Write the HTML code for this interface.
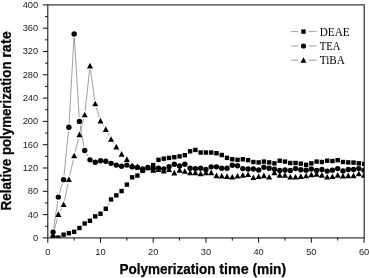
<!DOCTYPE html>
<html><head><meta charset="utf-8"><title>Relative polymerization rate</title>
<style>html,body{margin:0;padding:0;background:#fff}svg{display:block}</style></head>
<body>
<svg width="370" height="278" viewBox="0 0 370 278">
<rect width="370" height="278" fill="#fff"/>
<defs><clipPath id="pc"><rect x="47.8" y="4.9" width="316.4" height="233.0"/></clipPath></defs>
<g font-family="Liberation Sans, Arial, sans-serif" font-size="9.3" fill="#222">
<text x="38.2" y="240.80" text-anchor="end">0</text>
<text x="38.2" y="217.50" text-anchor="end">40</text>
<text x="38.2" y="194.20" text-anchor="end">80</text>
<text x="38.2" y="170.90" text-anchor="end">120</text>
<text x="38.2" y="147.60" text-anchor="end">160</text>
<text x="38.2" y="124.30" text-anchor="end">200</text>
<text x="38.2" y="101.00" text-anchor="end">240</text>
<text x="38.2" y="77.70" text-anchor="end">280</text>
<text x="38.2" y="54.40" text-anchor="end">320</text>
<text x="38.2" y="31.10" text-anchor="end">360</text>
<text x="38.2" y="7.80" text-anchor="end">400</text>
<text x="47.80" y="254.8" text-anchor="middle">0</text>
<text x="100.51" y="254.8" text-anchor="middle">10</text>
<text x="153.22" y="254.8" text-anchor="middle">20</text>
<text x="205.93" y="254.8" text-anchor="middle">30</text>
<text x="258.64" y="254.8" text-anchor="middle">40</text>
<text x="311.35" y="254.8" text-anchor="middle">50</text>
<text x="364.06" y="254.8" text-anchor="middle">60</text>
</g>
<g font-family="Liberation Sans, Arial, sans-serif" font-weight="bold" font-size="14.6" fill="#000" stroke="#000" stroke-width="0.25">
<text transform="translate(10.8 210.5) rotate(-90)"><tspan x="0.00" textLength="55.40" lengthAdjust="spacingAndGlyphs">Relative </tspan><tspan x="55.40" textLength="97.30" lengthAdjust="spacingAndGlyphs">polymerization </tspan><tspan x="152.70" textLength="26.60" lengthAdjust="spacingAndGlyphs">rate</tspan></text>
<text y="273.6"><tspan x="119.60" textLength="99.70" lengthAdjust="spacingAndGlyphs">Polymerization </tspan><tspan x="219.30" textLength="33.30" lengthAdjust="spacingAndGlyphs">time </tspan><tspan x="252.40" textLength="33.60" lengthAdjust="spacingAndGlyphs">(min)</tspan></text>
</g>
<g stroke="#777" stroke-width="0.7" fill="none">
<path d="M107.75 205.29L109.08 202.94M124.12 187.97L124.34 187.70M129.21 181.36L129.79 180.56"/>
<path d="M53.67 228.12L57.75 201.08M59.50 193.30L62.46 183.48M64.01 175.67L68.48 131.20M69.11 123.23L73.93 38.02M74.40 38.02L79.19 117.41M80.14 125.34L83.98 146.59M86.67 154.01L88.00 156.36"/>
<path d="M54.07 231.11L57.34 218.47M60.22 211.07L61.73 208.23M64.44 200.78L68.06 183.56M69.75 175.75L73.28 159.90M75.12 152.12L78.46 138.68M80.45 130.93L83.67 118.86M85.13 111.02L89.54 70.04M90.52 70.02L94.69 99.96M96.41 107.75L99.34 117.28M102.63 124.50L103.66 126.16M107.66 133.09L109.17 135.93M113.34 142.74L114.04 143.75M118.67 150.27L119.25 151.07"/>
<path d="M291 31.6H298.3M308.6 31.6H316.7"/>
<path d="M291 46H298.3M308.6 46H316.7"/>
<path d="M291 60.2H298.3M308.6 60.2H316.7"/>
</g>
<g fill="#000">
<g clip-path="url(#pc)"><rect x="50.87" y="235.12" width="4.4" height="4.4"/><rect x="56.14" y="235.41" width="4.4" height="4.4"/><rect x="61.41" y="232.50" width="4.4" height="4.4"/><rect x="66.68" y="231.04" width="4.4" height="4.4"/><rect x="71.95" y="229.64" width="4.4" height="4.4"/><rect x="77.23" y="225.80" width="4.4" height="4.4"/><rect x="82.50" y="221.31" width="4.4" height="4.4"/><rect x="87.77" y="218.57" width="4.4" height="4.4"/><rect x="93.04" y="214.15" width="4.4" height="4.4"/><rect x="98.31" y="211.53" width="4.4" height="4.4"/><rect x="103.58" y="206.58" width="4.4" height="4.4"/><rect x="108.85" y="197.26" width="4.4" height="4.4"/><rect x="114.12" y="193.18" width="4.4" height="4.4"/><rect x="119.39" y="188.87" width="4.4" height="4.4"/><rect x="124.66" y="182.40" width="4.4" height="4.4"/><rect x="129.94" y="175.12" width="4.4" height="4.4"/><rect x="135.21" y="173.37" width="4.4" height="4.4"/><rect x="140.48" y="168.71" width="4.4" height="4.4"/><rect x="145.75" y="165.80" width="4.4" height="4.4"/><rect x="151.02" y="162.89" width="4.4" height="4.4"/><rect x="156.29" y="157.65" width="4.4" height="4.4"/><rect x="161.56" y="156.48" width="4.4" height="4.4"/><rect x="166.83" y="155.72" width="4.4" height="4.4"/><rect x="172.10" y="155.02" width="4.4" height="4.4"/><rect x="177.38" y="154.15" width="4.4" height="4.4"/><rect x="182.65" y="152.99" width="4.4" height="4.4"/><rect x="187.92" y="149.14" width="4.4" height="4.4"/><rect x="193.19" y="147.74" width="4.4" height="4.4"/><rect x="198.46" y="150.31" width="4.4" height="4.4"/><rect x="203.73" y="150.31" width="4.4" height="4.4"/><rect x="209.00" y="150.31" width="4.4" height="4.4"/><rect x="214.27" y="151.06" width="4.4" height="4.4"/><rect x="219.54" y="152.81" width="4.4" height="4.4"/><rect x="224.81" y="155.66" width="4.4" height="4.4"/><rect x="230.08" y="157.06" width="4.4" height="4.4"/><rect x="235.36" y="157.65" width="4.4" height="4.4"/><rect x="240.63" y="157.06" width="4.4" height="4.4"/><rect x="245.90" y="157.94" width="4.4" height="4.4"/><rect x="251.17" y="159.80" width="4.4" height="4.4"/><rect x="256.44" y="160.21" width="4.4" height="4.4"/><rect x="261.71" y="159.39" width="4.4" height="4.4"/><rect x="266.98" y="160.21" width="4.4" height="4.4"/><rect x="272.25" y="161.14" width="4.4" height="4.4"/><rect x="277.52" y="158.52" width="4.4" height="4.4"/><rect x="282.80" y="159.39" width="4.4" height="4.4"/><rect x="288.07" y="160.79" width="4.4" height="4.4"/><rect x="293.34" y="160.79" width="4.4" height="4.4"/><rect x="298.61" y="161.43" width="4.4" height="4.4"/><rect x="303.88" y="162.65" width="4.4" height="4.4"/><rect x="309.15" y="161.14" width="4.4" height="4.4"/><rect x="314.42" y="159.39" width="4.4" height="4.4"/><rect x="319.69" y="159.80" width="4.4" height="4.4"/><rect x="324.96" y="158.52" width="4.4" height="4.4"/><rect x="330.23" y="158.81" width="4.4" height="4.4"/><rect x="335.50" y="157.94" width="4.4" height="4.4"/><rect x="340.78" y="159.80" width="4.4" height="4.4"/><rect x="346.05" y="160.21" width="4.4" height="4.4"/><rect x="351.32" y="160.38" width="4.4" height="4.4"/><rect x="356.59" y="161.14" width="4.4" height="4.4"/><rect x="361.86" y="161.72" width="4.4" height="4.4"/><circle cx="53.07" cy="232.08" r="2.7"/><circle cx="58.34" cy="197.12" r="2.7"/><circle cx="63.61" cy="179.65" r="2.7"/><circle cx="68.88" cy="127.23" r="2.7"/><circle cx="74.16" cy="34.03" r="2.7"/><circle cx="79.43" cy="121.40" r="2.7"/><circle cx="84.70" cy="150.53" r="2.7"/><circle cx="89.97" cy="159.84" r="2.7"/><circle cx="95.24" cy="162.18" r="2.7"/><circle cx="100.51" cy="160.78" r="2.7"/><circle cx="105.78" cy="161.24" r="2.7"/><circle cx="111.05" cy="163.34" r="2.7"/><circle cx="116.32" cy="165.09" r="2.7"/><circle cx="121.59" cy="166.25" r="2.7"/><circle cx="126.86" cy="165.09" r="2.7"/><circle cx="132.14" cy="166.84" r="2.7"/><circle cx="137.41" cy="167.42" r="2.7"/><circle cx="142.68" cy="168.87" r="2.7"/><circle cx="147.95" cy="167.42" r="2.7"/><circle cx="153.22" cy="168.58" r="2.7"/><circle cx="158.49" cy="168.29" r="2.7"/><circle cx="163.76" cy="168.87" r="2.7"/><circle cx="169.03" cy="166.66" r="2.7"/><circle cx="174.30" cy="164.21" r="2.7"/><circle cx="179.57" cy="165.96" r="2.7"/><circle cx="184.85" cy="164.27" r="2.7"/><circle cx="190.12" cy="168.23" r="2.7"/><circle cx="195.39" cy="168.58" r="2.7"/><circle cx="200.66" cy="168.23" r="2.7"/><circle cx="205.93" cy="169.57" r="2.7"/><circle cx="211.20" cy="166.84" r="2.7"/><circle cx="216.47" cy="166.84" r="2.7"/><circle cx="221.74" cy="168.23" r="2.7"/><circle cx="227.01" cy="168.23" r="2.7"/><circle cx="232.28" cy="165.26" r="2.7"/><circle cx="237.56" cy="165.79" r="2.7"/><circle cx="242.83" cy="168.58" r="2.7"/><circle cx="248.10" cy="168.99" r="2.7"/><circle cx="253.37" cy="168.99" r="2.7"/><circle cx="258.64" cy="169.98" r="2.7"/><circle cx="263.91" cy="167.30" r="2.7"/><circle cx="269.18" cy="168.23" r="2.7"/><circle cx="274.45" cy="169.17" r="2.7"/><circle cx="279.72" cy="170.56" r="2.7"/><circle cx="285.00" cy="169.98" r="2.7"/><circle cx="290.27" cy="170.56" r="2.7"/><circle cx="295.54" cy="168.58" r="2.7"/><circle cx="300.81" cy="169.75" r="2.7"/><circle cx="306.08" cy="170.16" r="2.7"/><circle cx="311.35" cy="168.99" r="2.7"/><circle cx="316.62" cy="170.56" r="2.7"/><circle cx="321.89" cy="169.57" r="2.7"/><circle cx="327.16" cy="171.09" r="2.7"/><circle cx="332.43" cy="170.16" r="2.7"/><circle cx="337.70" cy="168.58" r="2.7"/><circle cx="342.98" cy="170.91" r="2.7"/><circle cx="348.25" cy="169.57" r="2.7"/><circle cx="353.52" cy="169.57" r="2.7"/><circle cx="358.79" cy="168.58" r="2.7"/><circle cx="364.06" cy="170.16" r="2.7"/><path d="M53.07 231.74L56.07 237.34L50.07 237.34ZM58.34 211.35L61.34 216.95L55.34 216.95ZM63.61 201.45L66.61 207.05L60.61 207.05ZM68.88 176.40L71.88 182.00L65.88 182.00ZM74.16 152.75L77.16 158.35L71.16 158.35ZM79.43 131.55L82.43 137.15L76.43 137.15ZM84.70 111.74L87.70 117.34L81.70 117.34ZM89.97 62.81L92.97 68.41L86.97 68.41ZM95.24 100.68L98.24 106.28L92.24 106.28ZM100.51 117.86L103.51 123.46L97.51 123.46ZM105.78 126.31L108.78 131.91L102.78 131.91ZM111.05 136.21L114.05 141.81L108.05 141.81ZM116.32 143.78L119.32 149.38L113.32 149.38ZM121.59 151.06L124.59 156.66L118.59 156.66ZM126.86 156.31L129.87 161.91L123.86 161.91ZM132.14 162.42L135.14 168.02L129.14 168.02ZM137.41 163.59L140.41 169.19L134.41 169.19ZM142.68 166.50L145.68 172.10L139.68 172.10ZM147.95 164.75L150.95 170.35L144.95 170.35ZM153.22 167.08L156.22 172.68L150.22 172.68ZM158.49 166.50L161.49 172.10L155.49 172.10ZM163.76 168.01L166.76 173.61L160.76 173.61ZM169.03 166.50L172.03 172.10L166.03 172.10ZM174.30 169.82L177.30 175.42L171.30 175.42ZM179.57 167.08L182.57 172.68L176.57 172.68ZM184.85 168.13L187.85 173.73L181.85 173.73ZM190.12 169.53L193.12 175.13L187.12 175.13ZM195.39 169.53L198.39 175.13L192.39 175.13ZM200.66 170.69L203.66 176.29L197.66 176.29ZM205.93 169.53L208.93 175.13L202.93 175.13ZM211.20 169.53L214.20 175.13L208.20 175.13ZM216.47 172.62L219.47 178.22L213.47 178.22ZM221.74 172.91L224.74 178.51L218.74 178.51ZM227.01 173.31L230.01 178.91L224.01 178.91ZM232.28 173.90L235.28 179.50L229.28 179.50ZM237.56 172.91L240.56 178.51L234.56 178.51ZM242.83 172.03L245.83 177.63L239.83 177.63ZM248.10 171.45L251.10 177.05L245.10 177.05ZM253.37 174.48L256.37 180.08L250.37 180.08ZM258.64 173.49L261.64 179.09L255.64 179.09ZM263.91 172.62L266.91 178.22L260.91 178.22ZM269.18 173.90L272.18 179.50L266.18 179.50ZM274.45 169.53L277.45 175.13L271.45 175.13ZM279.72 172.03L282.72 177.63L276.72 177.63ZM285.00 172.03L288.00 177.63L282.00 177.63ZM290.27 173.90L293.27 179.50L287.27 179.50ZM295.54 173.90L298.54 179.50L292.54 179.50ZM300.81 173.31L303.81 178.91L297.81 178.91ZM306.08 172.73L309.08 178.33L303.08 178.33ZM311.35 171.63L314.35 177.23L308.35 177.23ZM316.62 171.04L319.62 176.64L313.62 176.64ZM321.89 172.03L324.89 177.63L318.89 177.63ZM327.16 173.90L330.16 179.50L324.16 179.50ZM332.43 173.49L335.43 179.09L329.43 179.09ZM337.70 172.03L340.70 177.63L334.70 177.63ZM342.98 172.91L345.98 178.51L339.98 178.51ZM348.25 172.62L351.25 178.22L345.25 178.22ZM353.52 172.62L356.52 178.22L350.52 178.22ZM358.79 170.69L361.79 176.29L355.79 176.29ZM364.06 172.03L367.06 177.63L361.06 177.63Z"/></g>
<rect x="301.3" y="29.400000000000002" width="4.4" height="4.4"/>
<circle cx="303.5" cy="46" r="2.6"/>
<path d="M303.50 57.15L306.50 62.75L300.50 62.75Z"/>
</g>
<g stroke="#111" stroke-width="1.05" fill="none">
<rect x="47.8" y="4.9" width="316.4" height="233.0"/>
<path d="M47.8 237.90h-5M47.8 226.25h-2.7M47.8 214.60h-5M47.8 202.95h-2.7M47.8 191.30h-5M47.8 179.65h-2.7M47.8 168.00h-5M47.8 156.35h-2.7M47.8 144.70h-5M47.8 133.05h-2.7M47.8 121.40h-5M47.8 109.75h-2.7M47.8 98.10h-5M47.8 86.45h-2.7M47.8 74.80h-5M47.8 63.15h-2.7M47.8 51.50h-5M47.8 39.85h-2.7M47.8 28.20h-5M47.8 16.55h-2.7M47.8 4.90h-5M47.80 237.9v4.9M74.16 237.9v2.7M100.51 237.9v4.9M126.86 237.9v2.7M153.22 237.9v4.9M179.57 237.9v2.7M205.93 237.9v4.9M232.28 237.9v2.7M258.64 237.9v4.9M285.00 237.9v2.7M311.35 237.9v4.9M337.70 237.9v2.7M364.06 237.9v4.9" stroke-width="1"/>
</g>
<g font-family="Liberation Serif, Times New Roman, serif" font-size="11.6" fill="#000">
<text x="319.7" y="35.6" textLength="29.9" lengthAdjust="spacingAndGlyphs">DEAE</text>
<text x="319.7" y="50.0" textLength="20.7" lengthAdjust="spacingAndGlyphs">TEA</text>
<text x="319.7" y="64.2" textLength="25.1" lengthAdjust="spacingAndGlyphs">TiBA</text>
</g>
</svg>
</body></html>
